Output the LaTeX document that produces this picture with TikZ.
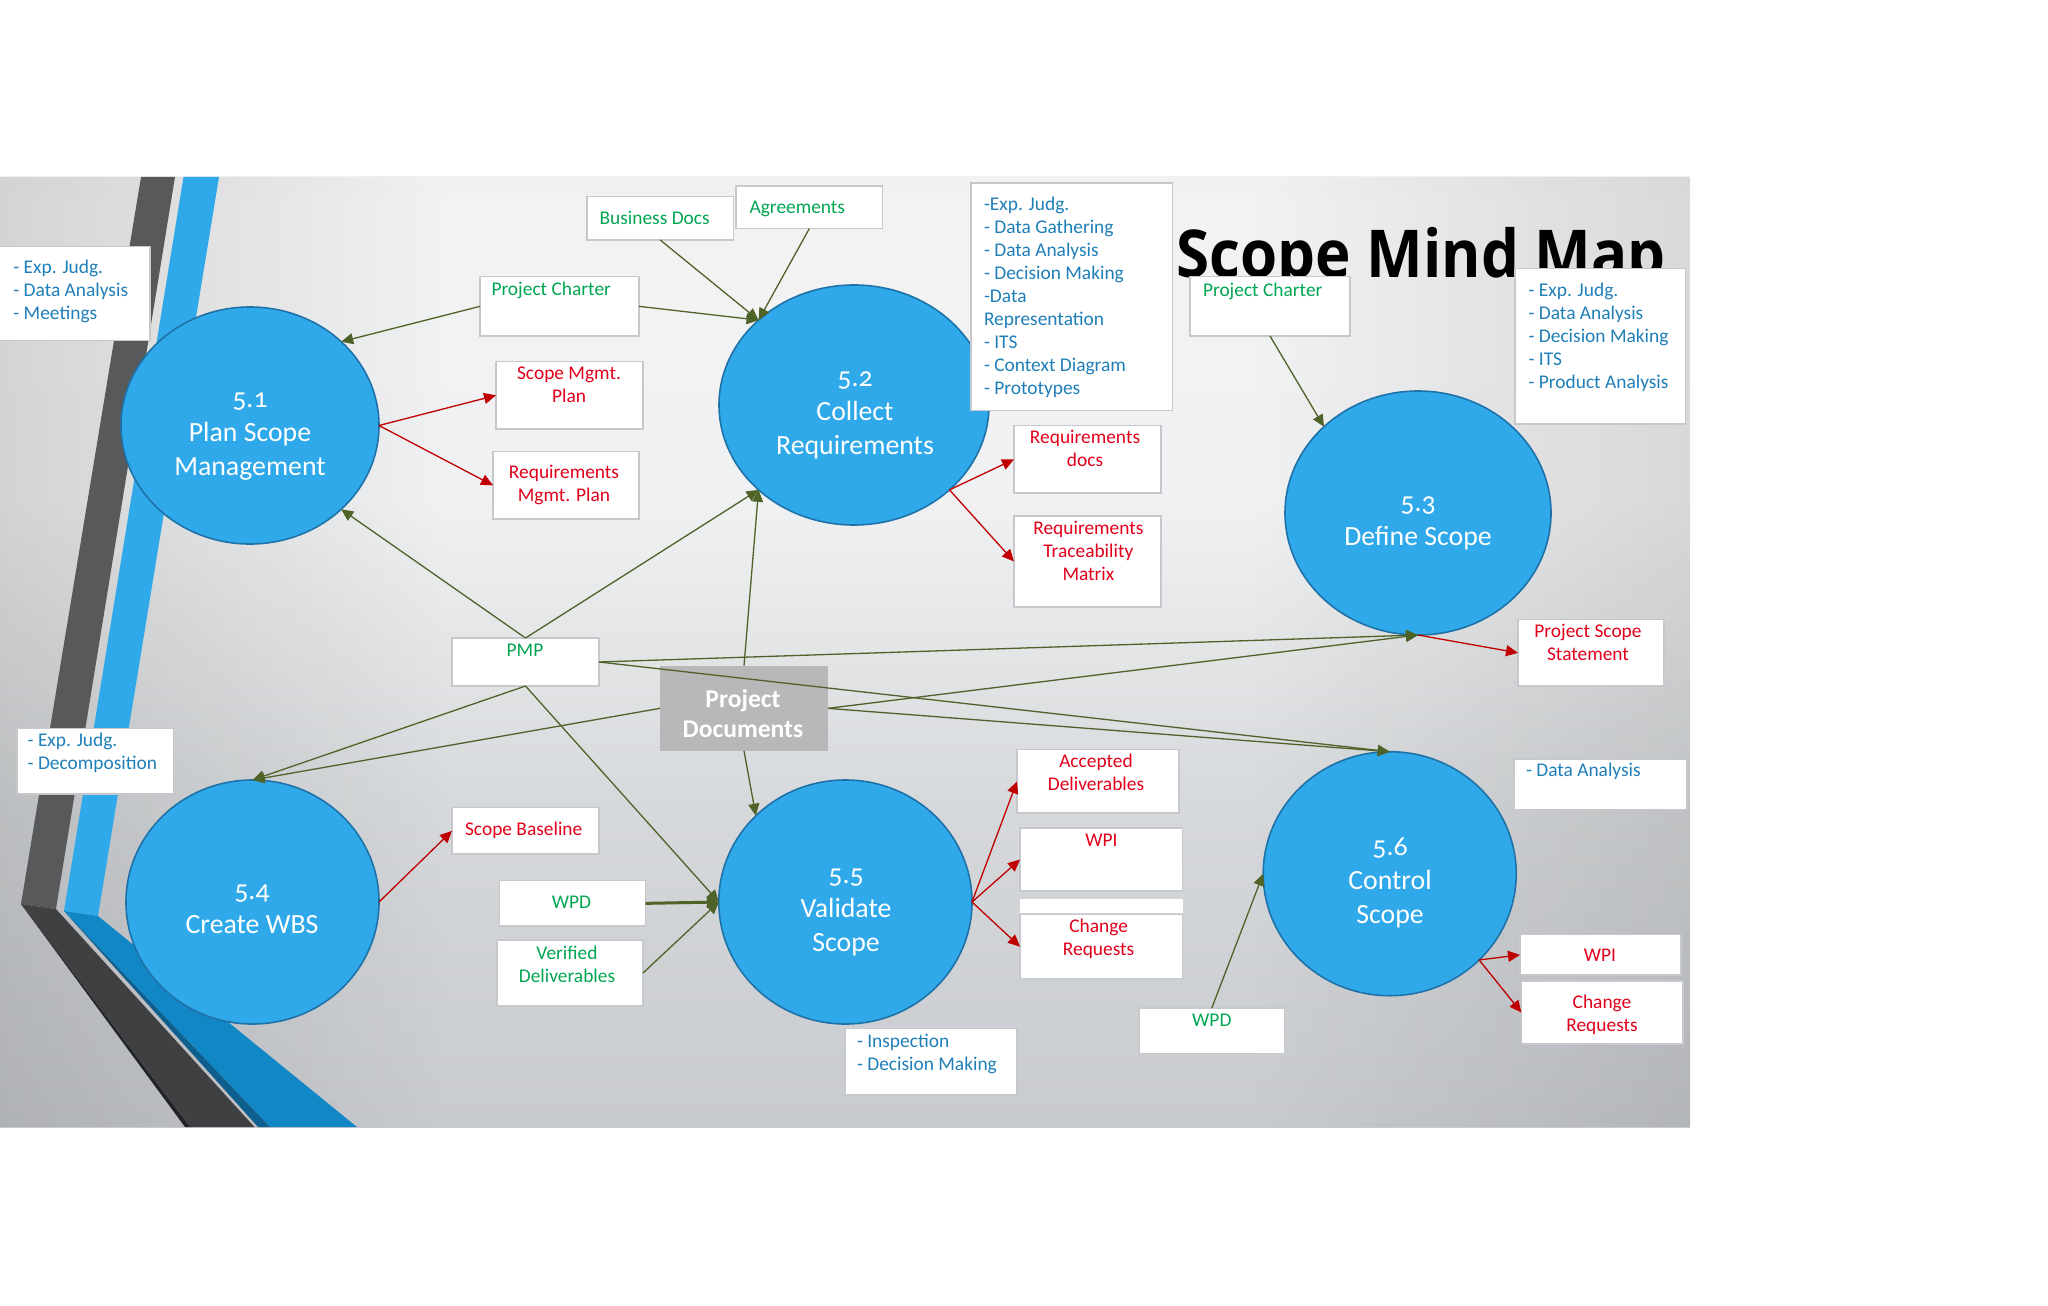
\documentclass[tikz,border=0pt]{standalone}
\usepackage{fontspec}
\setmainfont{Carlito}
\newfontfamily\digitfont[RawFeature=+onum]{Carlito}
\newfontfamily\titlefont{Open Sans}
\usetikzlibrary{shapes.geometric,arrows.meta,fadings}
\definecolor{ToolBlue}{HTML}{1F7FB8}
\definecolor{InGreen}{HTML}{00A651}
\definecolor{OutRed}{HTML}{E2001A}
\definecolor{LinkGreen}{HTML}{4F6228}
\definecolor{LinkRed}{HTML}{C00000}
\definecolor{BoxEdge}{HTML}{C6C8CC}
\definecolor{Proc}{HTML}{2FA9EA}
\definecolor{ProcEdge}{HTML}{1F72A8}
\definecolor{DocGrey}{HTML}{B8B8BA}
\definecolor{RibA}{HTML}{58595B}
\definecolor{RibB}{HTML}{3F4042}
\definecolor{RibC}{HTML}{222326}
\definecolor{RibD}{HTML}{1287C6}
\definecolor{RibE}{HTML}{0E5E8E}
\pgfdeclareverticalshading{slidebg}{100bp}{
 rgb(0bp)=(0.75,0.76,0.78);
 rgb(18bp)=(0.76,0.77,0.79);
 rgb(42bp)=(0.84,0.85,0.86);
 rgb(58bp)=(0.94,0.945,0.95);
 rgb(72bp)=(0.95,0.95,0.955);
 rgb(100bp)=(0.90,0.91,0.915)}
\tikzset{
 x=0.5pt,y=-0.5pt,
 lbl/.style={font=\fontsize{9.7pt}{11.5pt}\selectfont},
 box/.style={draw=BoxEdge,line width=0.7pt,fill=white,inner sep=0pt,outer sep=0pt,lbl},
 tool/.style={box,text=ToolBlue},
 input/.style={box,text=InGreen},
 output/.style={box,text=OutRed},
 docs/.style={fill=DocGrey,inner sep=0pt,outer sep=0pt,text=white,font=\fontsize{12.8pt}{15pt}\selectfont\bfseries},
 proc/.style={ellipse,draw=ProcEdge,line width=0.8pt,fill=Proc,inner sep=0pt,outer sep=0pt,text=white,
   font=\digitfont\fontsize{13.9pt}{17pt}\selectfont},
 link/.style={draw=LinkGreen,line width=0.65pt,-{Triangle[length=6pt,width=5.5pt]}},
 linkthick/.style={link,line width=1.5pt,-{Triangle[length=6pt,width=5.5pt]}},
 linkred/.style={draw=LinkRed,line width=0.65pt,-{Triangle[length=6pt,width=5.5pt]}},
}
% name x0 y0 x1 y1 style textleft firstlinecentre lines
\newcommand\bxl[9]{%
 \pgfmathsetmacro\bw{(#4-#2)*.5}\pgfmathsetmacro\bh{(#5-#3)*.5}%
 \pgfmathsetmacro\bp{(#8-#3-10)*.5}\pgfmathsetmacro\bd{(#7-#2)*.5}%
 \node[#6] (#1) at ({(#2+#4)/2},{(#3+#5)/2}) {\parbox[c][\bh pt][t]{\bw pt}{\vspace*{\bp pt}\par\noindent\hspace*{\bd pt}\begin{tabular}[t]{@{}l@{}}#9\end{tabular}}};}
% name x0 y0 x1 y1 style textcentre firstlinecentre lines
\newcommand\bxc[9]{%
 \pgfmathsetmacro\bw{(#4-#2)*.5}\pgfmathsetmacro\bh{(#5-#3)*.5}%
 \pgfmathsetmacro\bp{(#8-#3-10)*.5}\pgfmathsetmacro\bd{(#7-(#2+#4)/2)}%
 \node[#6] (#1) at ({(#2+#4)/2},{(#3+#5)/2}) {\parbox[c][\bh pt][t]{\bw pt}{\vspace*{\bp pt}\par\centering\hspace*{\bd pt}\begin{tabular}[t]{@{}c@{}}#9\end{tabular}\par}};}
% name cx cy rx ry textcentre firstbaseline lines
\newcommand\proc[8]{%
 \pgfmathsetmacro\pr{(#3-#7)*.5}\pgfmathsetmacro\ps{(#6-#2)}%
 \node[proc,minimum width=#4pt,minimum height=#5pt] (#1) at (#2,#3) {\makebox[0pt]{\hspace*{\ps pt}\raisebox{\pr pt}[0pt][0pt]{\begin{tabular}[t]{@{}c@{}}#8\end{tabular}}}};}
\begin{document}
\begin{tikzpicture}
\useasboundingbox (0,0) rectangle (2048,1305);
\fill[white] (0,0) rectangle (2048,1305);
% slide background
\begin{scope}
 \clip (0,177) rectangle (1690,1127);
 \shade[shading=slidebg] (0,177) rectangle (1690,1127);
 \fill[black,fill opacity=.12,path fading=east] (0,177) rectangle (450,1127);
 \fill[black,fill opacity=.10,path fading=west] (1250,177) rectangle (1690,1127);
 % ribbons
 \fill[RibA] (141,177) -- (175,177) -- (56,909) -- (21,904) -- cycle;
 \fill[Proc] (183.5,177) -- (219,177) -- (98,916) -- (64,911) -- cycle;
 \fill[RibB] (21,904) -- (56,909) -- (254.5,1127) -- (190,1127) -- cycle;
 \fill[RibC] (21,904) -- (190,1127) -- (185,1127) -- cycle;
 \fill[RibD] (64,911) -- (98,916) -- (357,1127) -- (270,1127) -- cycle;
 \fill[RibE] (64,911) -- (270,1127) -- (258,1127) -- cycle;
\end{scope}
\node[font=\titlefont\bfseries\fontsize{33pt}{36pt}\selectfont,text=black,anchor=base west,inner sep=0pt] (title) at (1176,277) {\scalebox{.91}[1]{Scope Mind Map}};
% processes
\proc{c51}{250}{425.5}{129}{118.5}{250}{407}{5.1\\Plan Scope\\Management}
\proc{c52}{854}{405}{135}{120}{855}{386.7}{5.2\\Collect\\Requirements}
\proc{c53}{1418}{513}{133}{122}{1418}{511.7}{5.3\\Define Scope}
\proc{c54}{252.5}{902}{126.5}{122}{252}{899.3}{5.4\\Create WBS}
\proc{c55}{845.4}{902}{126.6}{122}{846}{883.5}{5.5\\Validate\\Scope}
\proc{c56}{1389.7}{873.7}{126.5}{122}{1390}{855}{5.6\\Control\\Scope}
% boxes
\bxl{t51}{-2}{246.7}{150}{340.7}{tool}{13.4}{267.7}{- Exp. Judg.\\- Data Analysis\\- Meetings}
\bxl{pc1}{480}{276.7}{639}{336}{input}{491.5}{289}{Project Charter}
\bxc{sm}{496}{361.7}{643}{429}{output}{569}{373}{Scope Mgmt.\\Plan}
\bxc{rm}{493}{451.7}{639}{519}{output}{564}{472.7}{Requirements\\Mgmt. Plan}
\bxc{pmp}{452}{638}{599}{686}{input}{525}{650}{PMP}
\bxl{bd}{587}{196.7}{733.5}{240}{input}{599.6}{218}{Business Docs}
\bxl{ag}{736}{186}{882.5}{228.7}{input}{749.6}{207.7}{Agreements}
\bxl{t52}{971}{183}{1172.6}{410.7}{tool}{984}{204.7}{-Exp. Judg.\\- Data Gathering\\- Data Analysis\\- Decision Making\\-Data\\Representation\\- ITS\\- Context Diagram\\- Prototypes}
\bxc{rd}{1014}{425.7}{1161}{493}{output}{1085}{437.7}{Requirements\\docs}
\bxc{rtm}{1014}{516}{1161}{607}{output}{1088.4}{528}{Requirements\\Traceability\\Matrix}
\bxl{pc2}{1190}{276.7}{1350}{336}{input}{1203}{290}{Project Charter}
\bxl{t53}{1515}{268.7}{1685.7}{424}{tool}{1528.6}{290}{- Exp. Judg.\\- Data Analysis\\- Decision Making\\- ITS\\- Product Analysis}
\bxc{pss}{1518}{619.7}{1664}{686}{output}{1588}{631.7}{Project Scope\\Statement}
\bxc{pd}{660}{665.7}{828}{751}{docs}{743}{696}{Project\\Documents}
\bxc{acc}{1017}{749.7}{1179}{813}{output}{1096}{761.7}{Accepted\\Deliverables}
\bxc{wpi}{1020}{828}{1182.5}{891}{output}{1101.4}{840}{WPI}
\node[fill=white,inner sep=0pt,outer sep=0pt,minimum width=81.25pt,minimum height=7.2pt] (strip) at (1101.25,906) {};
\bxc{chg}{1020}{914.7}{1182.5}{978.7}{output}{1098.6}{926}{Change\\Requests}
\bxl{t55}{845}{1028.7}{1017}{1095}{tool}{857}{1041}{- Inspection\\- Decision Making}
\bxc{wpd2}{1139}{1008}{1284.6}{1053.7}{input}{1211.8}{1020}{WPD}
\bxl{t56}{1514}{759}{1686.8}{809.7}{tool}{1526}{770.7}{- Data Analysis}
\bxc{wpi2}{1520}{934.7}{1681}{975}{output}{1600}{955.7}{WPI}
\bxc{chg2}{1521.4}{981}{1683}{1044}{output}{1602}{1002.7}{Change\\Requests}
\bxl{t54}{17}{728.7}{173.7}{794}{tool}{27.7}{740.7}{- Exp. Judg.\\- Decomposition}
\bxc{sb}{452}{807.7}{599}{854}{output}{523.7}{829}{Scope Baseline}
\bxc{wpd}{499.6}{880.7}{645.5}{926}{input}{571.4}{902}{WPD}
\bxc{ver}{497}{940}{643}{1006}{input}{567}{953}{Verified\\Deliverables}
% inputs
\draw[link] (pc1.west) -- (c51.north east);
\draw[link] (pc1.east) -- (c52.north west);
\draw[link] (bd.south) -- (c52.north west);
\draw[link] (ag.south) -- (c52.north west);
\draw[link] (pmp.north) -- (c51.south east);
\draw[link] (pmp.north) -- (c52.south west);
\draw[link] (pd.north) -- (c52.south west);
\draw[link] (pmp.east) -- (c53.south);
\draw[link] (pd.east) -- (c53.south);
\draw[link] (pmp.east) -- (c56.north);
\draw[link] (pd.east) -- (c56.north);
\draw[link] (pd.west) -- (c54.north);
\draw[link] (pmp.south) -- (c54.north);
\draw[link] (pmp.south) -- (c55.west);
\draw[linkthick] (wpd.east) -- (c55.west);
\draw[link] (ver.east) -- (c55.west);
\draw[link] (pd.south) -- (c55.north west);
\draw[link] (pc2.south) -- (c53.north west);
\draw[link] (wpd2.north) -- (c56.west);
% outputs
\draw[linkred] (c51.east) -- (sm.west);
\draw[linkred] (c51.east) -- (rm.west);
\draw[linkred] (c52.south east) -- (rd.west);
\draw[linkred] (c52.south east) -- (rtm.west);
\draw[linkred] (c53.south) -- (pss.west);
\draw[linkred] (c54.east) -- (sb.west);
\draw[linkred] (c55.east) -- (acc.west);
\draw[linkred] (c55.east) -- (wpi.west);
\draw[linkred] (c55.east) -- (chg.west);
\draw[linkred] (c56.south east) -- (wpi2.west);
\draw[linkred] (c56.south east) -- (chg2.west);
\end{tikzpicture}
\end{document}
